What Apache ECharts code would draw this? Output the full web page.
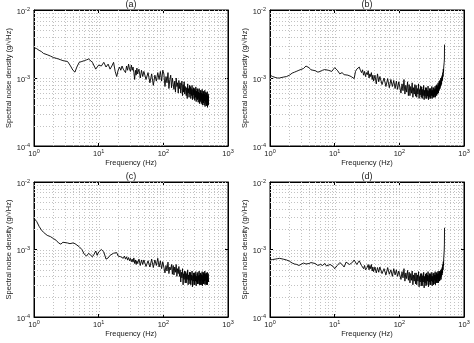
<!DOCTYPE html>
<html>
<head>
<meta charset="utf-8">
<script src="https://cdn.jsdelivr.net/npm/echarts@6/dist/echarts.min.js"></script>
<style>
html,body{margin:0;padding:0;background:#fff;}
#chart{width:474px;height:343px;}
</style>
</head>
<body>
<div id="chart"></div>
<script>
// Frequency bins (Hz), shared by all four spectra
const freqHz = [
  1,1.1,1.2,1.3,1.4,1.5,1.6,1.8,2,2.2,2.4,2.6,2.8,3,3.3,3.6,4,4.3,4.6,5,5.5,6,6.5,7,7.5,8,8.5,9,9.5,
  10,11,12,13,14,15,16,17,18,19,20,21,22,23,24,25,26,27,28,29,30,31,32,33,34,35,36,37,38,39,40,42,44,46,48,
  50,54,58,62,66,70,74,78,82,86,90,94,98,
  102,106,110,114,118,122,126,130,134,138,
  142,146,150,154,158,162,166,170,174,178,
  182,186,190,194,198,202,206,210,214,218,
  222,226,230,234,238,242,246,250,254,258,
  262,266,270,274,278,282,286,290,294,298,
  302,306,310,314,318,322,326,330,334,338,
  342,346,350,354,358,362,366,370,374,378,
  382,386,390,394,398,402,406,410,414,418,
  422,426,430,434,438,442,446,450,454,458,
  462,466,470,474,478,482,486,490,494,498,
  500
];

// Spectral noise densities, in units of 10^-3 g/√Hz
const psdA = [
  2.8,2.7,2.55,2.45,2.3,2.25,2.2,2.1,2.0,1.95,1.9,1.85,1.8,1.8,1.75,1.55,1.3,1.22,1.45,1.7,1.75,1.8,1.85,1.9,1.8,1.7,1.6,1.35,1.4,
  1.55,1.5,1.7,1.45,1.6,1.35,1.5,1.7,1.25,1.05,1.3,1.45,1.3,1.5,1.35,1.4,1.2,1.5,1.3,1.6,1.35,1.25,1.55,1.3,1.45,1.2,0.95,1.3,1.1,1.4,1.15,1.35,1.0,1.3,1.05,
  1.25,0.95,1.2,0.85,1.15,0.78,1.1,0.9,1.2,0.95,1.25,0.9,1.3,
  1.15,0.75,1.05,0.85,1.2,0.7,0.95,1.1,0.72,1.0,
  0.95,0.68,0.9,0.62,1.0,0.75,0.85,0.6,0.92,0.7,
  0.85,0.6,0.78,0.9,0.55,0.8,0.62,0.88,0.58,0.75,
  0.8,0.55,0.72,0.5,0.82,0.6,0.7,0.52,0.78,0.58,
  0.75,0.5,0.7,0.55,0.78,0.48,0.68,0.56,0.72,0.5,
  0.7,0.47,0.66,0.52,0.74,0.45,0.64,0.5,0.7,0.48,
  0.68,0.44,0.62,0.5,0.7,0.42,0.6,0.47,0.66,0.45,
  0.65,0.42,0.6,0.48,0.68,0.4,0.58,0.45,0.64,0.43,
  0.63,0.4,0.58,0.46,0.66,0.38,0.56,0.44,0.62,0.41,
  0.6,0.39,0.55,0.44,0.63,0.37,0.54,0.42,0.58,0.4,
  0.55
];

const psdB = [
  1.1,1.05,1.02,1.0,1.0,1.02,1.03,1.05,1.1,1.18,1.22,1.26,1.3,1.33,1.38,1.5,1.42,1.32,1.3,1.28,1.22,1.25,1.3,1.33,1.28,1.3,1.32,1.25,1.3,
  1.42,1.3,1.15,1.2,1.12,1.18,1.1,1.15,1.05,1.12,0.98,1.25,1.35,1.42,1.45,1.3,1.2,1.32,1.1,1.25,1.05,1.2,1.12,1.28,1.0,1.15,1.05,1.2,0.95,1.1,0.9,1.1,0.82,1.15,0.88,
  1.05,0.8,1.0,0.75,0.98,0.72,0.95,0.75,0.92,0.7,0.9,0.68,0.88,
  0.9,0.6,0.82,0.65,0.95,0.58,0.78,0.62,0.88,0.55,
  0.8,0.55,0.75,0.6,0.85,0.52,0.72,0.58,0.8,0.54,
  0.78,0.52,0.7,0.58,0.82,0.5,0.68,0.56,0.76,0.52,
  0.74,0.5,0.68,0.55,0.78,0.48,0.66,0.54,0.72,0.5,
  0.72,0.5,0.66,0.54,0.76,0.48,0.65,0.53,0.7,0.5,
  0.7,0.5,0.66,0.55,0.75,0.5,0.66,0.54,0.72,0.52,
  0.72,0.52,0.68,0.56,0.76,0.52,0.7,0.57,0.78,0.55,
  0.8,0.58,0.75,0.62,0.85,0.6,0.8,0.65,0.9,0.68,
  0.92,0.7,0.88,0.75,1.0,0.78,0.95,0.82,1.05,0.9,
  1.1,0.95,1.2,1.05,1.35,1.2,1.45,1.4,1.7,1.9,
  3.1
];

const psdC = [
  2.9,2.6,2.2,1.95,1.8,1.7,1.62,1.55,1.45,1.37,1.25,1.2,1.28,1.3,1.25,1.22,1.25,1.22,1.2,1.1,1.0,0.85,0.8,0.88,0.85,0.78,0.85,0.95,0.82,
  0.92,1.0,0.92,0.72,0.75,0.82,0.8,0.88,0.85,0.9,0.8,0.85,0.78,0.82,0.74,0.8,0.72,0.78,0.7,0.76,0.68,0.74,0.66,0.72,0.65,0.75,0.62,0.7,0.6,0.68,0.62,0.72,0.58,0.7,0.6,
  0.7,0.56,0.68,0.55,0.72,0.54,0.7,0.58,0.74,0.55,0.68,0.52,0.66,
  0.62,0.45,0.58,0.48,0.65,0.44,0.55,0.5,0.6,0.43,
  0.58,0.42,0.55,0.46,0.6,0.4,0.52,0.44,0.56,0.4,
  0.5,0.33,0.46,0.38,0.52,0.3,0.44,0.36,0.48,0.32,
  0.47,0.32,0.44,0.36,0.5,0.3,0.42,0.35,0.46,0.31,
  0.46,0.3,0.42,0.35,0.48,0.28,0.41,0.34,0.45,0.3,
  0.45,0.3,0.42,0.34,0.47,0.29,0.4,0.33,0.44,0.31,
  0.46,0.31,0.41,0.35,0.48,0.3,0.42,0.34,0.45,0.3,
  0.44,0.3,0.42,0.35,0.47,0.29,0.41,0.33,0.45,0.31,
  0.46,0.31,0.43,0.34,0.48,0.3,0.42,0.35,0.44,0.31,
  0.45,0.3,0.42,0.35,0.46,0.3,0.41,0.34,0.44,0.33,
  0.36
];

const psdD = [
  0.7,0.71,0.72,0.73,0.74,0.73,0.72,0.7,0.67,0.63,0.61,0.6,0.58,0.6,0.63,0.61,0.62,0.64,0.68,0.62,0.58,0.6,0.58,0.62,0.57,0.55,0.6,0.62,0.56,
  0.52,0.58,0.64,0.6,0.55,0.65,0.68,0.6,0.58,0.65,0.7,0.66,0.6,0.62,0.68,0.64,0.58,0.55,0.52,0.58,0.5,0.47,0.55,0.6,0.5,0.58,0.52,0.6,0.48,0.55,0.47,0.55,0.45,0.54,0.46,
  0.55,0.44,0.52,0.42,0.54,0.43,0.5,0.4,0.52,0.42,0.5,0.4,0.48,
  0.5,0.36,0.47,0.38,0.52,0.34,0.45,0.37,0.49,0.35,
  0.46,0.32,0.44,0.35,0.48,0.3,0.42,0.34,0.45,0.31,
  0.45,0.3,0.42,0.34,0.47,0.28,0.4,0.33,0.44,0.29,
  0.44,0.29,0.41,0.33,0.46,0.27,0.4,0.32,0.43,0.29,
  0.45,0.3,0.42,0.34,0.47,0.28,0.41,0.33,0.44,0.3,
  0.44,0.3,0.41,0.34,0.46,0.29,0.4,0.33,0.44,0.3,
  0.45,0.31,0.42,0.35,0.47,0.3,0.42,0.34,0.45,0.32,
  0.46,0.32,0.43,0.36,0.48,0.32,0.44,0.36,0.47,0.34,
  0.48,0.35,0.46,0.38,0.5,0.36,0.48,0.4,0.52,0.42,
  0.55,0.45,0.6,0.5,0.66,0.58,0.75,0.72,0.95,1.2,
  2.1
];

const PSD_UNIT = 1e-3;
const panelTitles = ['(a)', '(b)', '(c)', '(d)'];
const panelSeries = [psdA, psdB, psdC, psdD];
const xName = 'Frequency (Hz)';
const yName = 'Spectral noise density (g/\u221AHz)';

// log-grid positions (1..9 per decade) inside the plot ranges
const xGridValues = [2,3,4,5,6,7,8,9,10,20,30,40,50,60,70,80,90,100,200,300,400,500,600,700,800,900];
const yGridValues = [2e-4,3e-4,4e-4,5e-4,6e-4,7e-4,8e-4,9e-4,1e-3,2e-3,3e-3,4e-3,5e-3,6e-3,7e-3,8e-3,9e-3];
const X_RANGE = [1, 1000];
const Y_RANGE = [1e-4, 1e-2];

const FONT = '"Liberation Sans", Arial, Helvetica, sans-serif';
const INK = '#1a1a1a';

// plot rectangles: [left, top, width, height]
const rects = [
  [34, 10, 194, 136],
  [270, 10, 194, 136],
  [34, 182, 194, 135],
  [270, 182, 194, 135]
];

const GRID_COLOR = '#c2c2c2';

const powRich = {
  b: { fontSize: 7.5, fontFamily: FONT, color: INK, lineHeight: 8, padding: [3, 0, 0, 0] },
  s: { fontSize: 5.5, fontFamily: FONT, color: INK, lineHeight: 6, verticalAlign: 'top' }
};
function powLabel(v) {
  const e = Math.round(Math.log10(v));
  return '{b|10}{s|' + e + '}';
}

// dotted grid line at one axis value, placed through the axis scale
function gridRenderer(dir) {
  return function (params, api) {
    const cs = params.coordSys;
    let x1, y1, x2, y2;
    if (dir === 'x') {
      const x = Math.round(api.coord([api.value(0), Y_RANGE[0]])[0]) + 0.5;
      x1 = x2 = x; y1 = cs.y; y2 = cs.y + cs.height;
    } else {
      const y = Math.round(api.coord([X_RANGE[0], api.value(1)])[1]) + 0.5;
      y1 = y2 = y; x1 = cs.x; x2 = cs.x + cs.width;
    }
    return {
      type: 'line', silent: true,
      shape: { x1, y1, x2, y2 },
      style: { stroke: GRID_COLOR, lineWidth: 1, lineDash: [1, 2] }
    };
  };
}

const grid = [], xAxis = [], yAxis = [], series = [], title = [];

rects.forEach(([l, t, w, h], i) => {
  grid.push({ left: l, top: t, width: w, height: h, show: true, borderColor: '#000', borderWidth: 1, backgroundColor: 'transparent' });
  title.push({
    text: panelTitles[i], left: l + w / 2, top: t - 10, textAlign: 'center', padding: 0,
    textStyle: { fontSize: 9, fontWeight: 'normal', fontFamily: FONT, color: INK }
  });
  const common = {
    gridIndex: i, type: 'log', logBase: 10,
    axisLine: { show: true, lineStyle: { color: '#000', width: 1 } },
    axisTick: { show: true, inside: true, length: 3, lineStyle: { color: '#000', width: 1 } },
    splitLine: { show: false }
  };
  xAxis.push(Object.assign({}, common, {
    position: 'bottom', min: X_RANGE[0], max: X_RANGE[1],
    axisLabel: { formatter: powLabel, rich: powRich, margin: 2 },
    name: xName, nameLocation: 'middle', nameGap: 13,
    nameTextStyle: { fontSize: 7.5, fontFamily: FONT, color: INK }
  }));
  xAxis.push(Object.assign({}, common, {
    position: 'top', min: X_RANGE[0], max: X_RANGE[1], axisLabel: { show: false }
  }));
  yAxis.push(Object.assign({}, common, {
    position: 'left', min: Y_RANGE[0], max: Y_RANGE[1],
    axisLabel: { formatter: powLabel, rich: powRich, margin: 4 },
    name: yName, nameLocation: 'middle', nameGap: 20,
    nameTextStyle: { fontSize: 7.5, fontFamily: FONT, color: INK }
  }));
  yAxis.push(Object.assign({}, common, {
    position: 'right', min: Y_RANGE[0], max: Y_RANGE[1], axisLabel: { show: false }
  }));
  // dotted log grid, drawn beneath the spectrum
  series.push({
    type: 'custom', xAxisIndex: 2 * i, yAxisIndex: 2 * i, z: 1, silent: true,
    renderItem: gridRenderer('x'), clip: false,
    data: xGridValues.map(v => [v, Y_RANGE[0]])
  });
  series.push({
    type: 'custom', xAxisIndex: 2 * i, yAxisIndex: 2 * i, z: 1, silent: true,
    renderItem: gridRenderer('y'), clip: false,
    data: yGridValues.map(v => [X_RANGE[0], v])
  });
  series.push({
    type: 'line', xAxisIndex: 2 * i, yAxisIndex: 2 * i, z: 3,
    data: freqHz.map((f, k) => [f, panelSeries[i][k] * PSD_UNIT]),
    showSymbol: false, symbol: 'none', silent: true, animation: false,
    lineStyle: { color: '#000', width: 0.9 }
  });
});

const chart = echarts.init(document.getElementById('chart'), null, { renderer: 'canvas' });
chart.setOption({ animation: false, backgroundColor: '#fff', title, grid, xAxis, yAxis, series });
</script>
</body>
</html>
